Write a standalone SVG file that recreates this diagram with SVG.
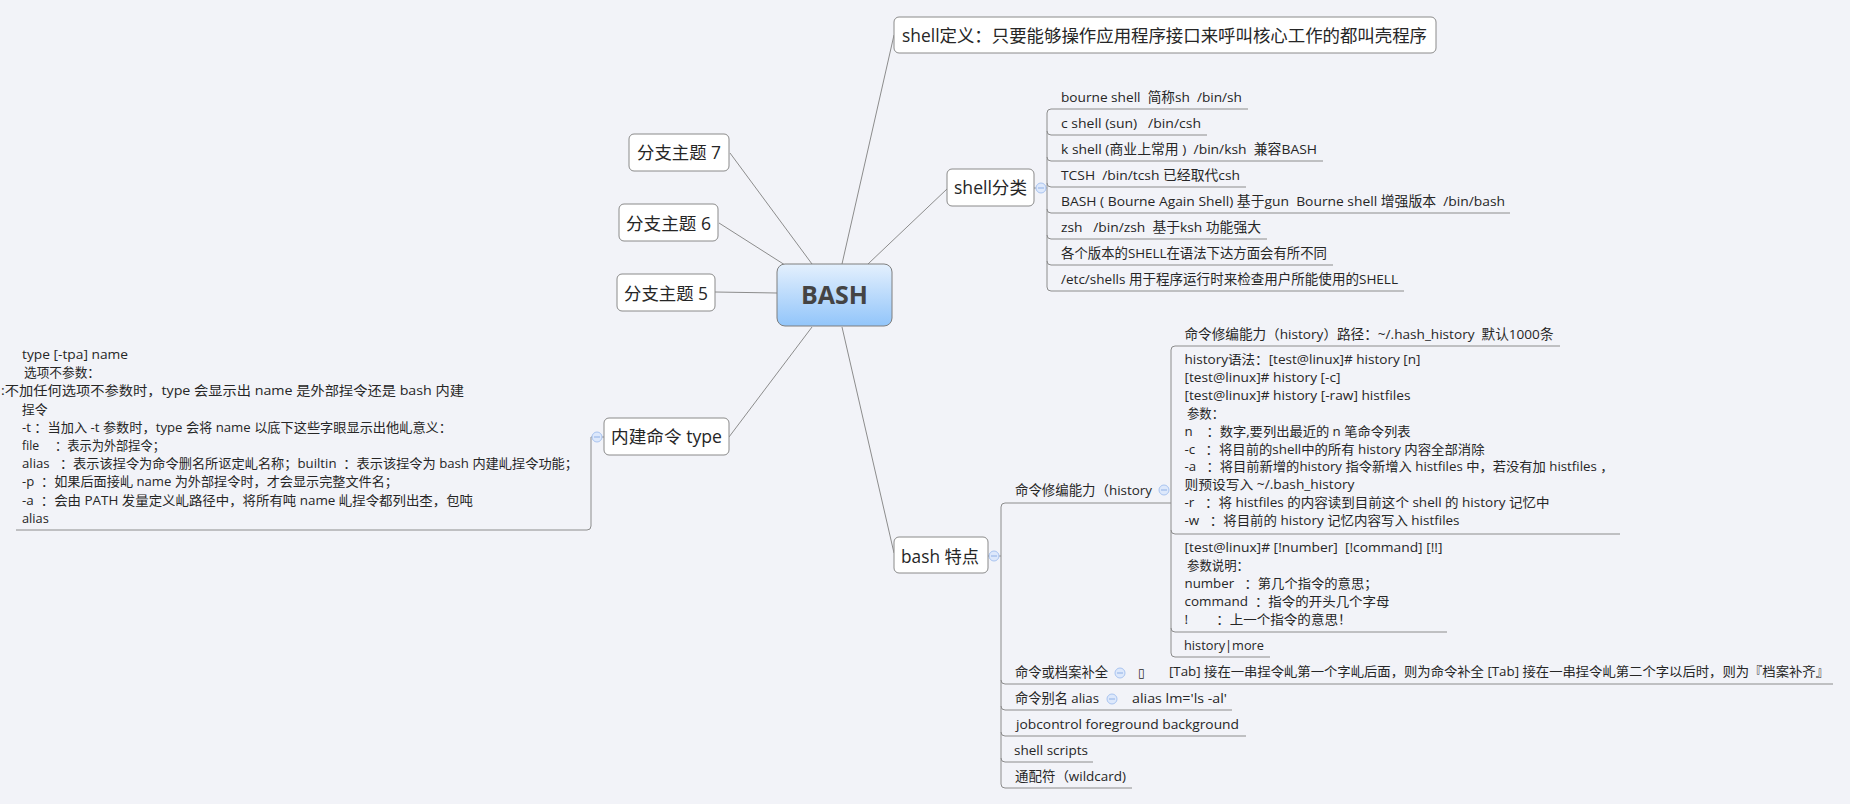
<svg xmlns="http://www.w3.org/2000/svg" width="1850" height="804" viewBox="0 0 1850 804">
<defs>
<linearGradient id="gBash" x1="0" y1="0" x2="0" y2="1">
<stop offset="0" stop-color="#e4f0fd"/>
<stop offset="1" stop-color="#92c5fa"/>
</linearGradient>
</defs>
<style>
.t{font-family:"Open Sans","Noto Sans CJK SC",sans-serif;fill:#262626}
.big{font-size:17.5px}
.sm{font-size:13.3px}
.xs{font-size:12.8px}
.box{fill:#ffffff;stroke:#8a8a8a;stroke-width:1}
.conn{fill:none;stroke:#8c8c8c;stroke-width:1}
.col{fill:#dde8fb;stroke:#a9c4f0;stroke-width:1}
.colm{stroke:#8fb0e6;stroke-width:1}
</style>
<rect x="0" y="0" width="1850" height="804" fill="#f2f3f8"/>

<g id="connectors">
<path class="conn" d="M842,264 L894,35"/>
<path class="conn" d="M812,264 L730,153"/>
<path class="conn" d="M785,265 L719,223"/>
<path class="conn" d="M777,293 L715,292"/>
<path class="conn" d="M868,264 L947,189"/>
<path class="conn" d="M812,327 L729,437"/>
<path class="conn" d="M842,327 L894,553"/>
<path class="conn" d="M1034,188 H1047"/>
<path class="conn" d="M1047,113 V287"/>
<path class="conn" d="M1047,113 Q1047,109 1051,109 H1248"/>
<path class="conn" d="M1047,131 Q1047,135 1051,135 H1207"/>
<path class="conn" d="M1047,157 Q1047,161 1051,161 H1323"/>
<path class="conn" d="M1047,183 Q1047,187 1051,187 H1246"/>
<path class="conn" d="M1047,209 Q1047,213 1051,213 H1510"/>
<path class="conn" d="M1047,235 Q1047,239 1051,239 H1267"/>
<path class="conn" d="M1047,261 Q1047,265 1051,265 H1333"/>
<path class="conn" d="M1047,287 Q1047,291 1051,291 H1404"/>
<path class="conn" d="M604,437 H591 V526 Q591,530 587,530 H16"/>
<path class="conn" d="M988,556 H1001"/>
<path class="conn" d="M1001,507 V784"/>
<path class="conn" d="M1001,507 Q1001,503 1005,503 H1171"/>
<path class="conn" d="M1001,680 Q1001,684 1005,684 H1833"/>
<path class="conn" d="M1001,706 Q1001,710 1005,710 H1232"/>
<path class="conn" d="M1001,732 Q1001,736 1005,736 H1246"/>
<path class="conn" d="M1001,758 Q1001,762 1005,762 H1093"/>
<path class="conn" d="M1001,784 Q1001,788 1005,788 H1132"/>
<path class="conn" d="M1171,350 V653"/>
<path class="conn" d="M1171,350 Q1171,346 1175,346 H1560"/>
<path class="conn" d="M1171,530 Q1171,534 1175,534 H1620"/>
<path class="conn" d="M1171,628 Q1171,632 1175,632 H1447"/>
<path class="conn" d="M1171,653 Q1171,657 1175,657 H1270"/>
</g>

<g id="collapse">
<circle class="col" cx="1041" cy="188" r="5"/><line class="colm" x1="1038" y1="188" x2="1044" y2="188"/>
<circle class="col" cx="597" cy="437" r="5"/><line class="colm" x1="594" y1="437" x2="600" y2="437"/>
<circle class="col" cx="994" cy="556" r="5"/><line class="colm" x1="991" y1="556" x2="997" y2="556"/>
<circle class="col" cx="1164" cy="490" r="5"/><line class="colm" x1="1161" y1="490" x2="1167" y2="490"/>
<circle class="col" cx="1120" cy="673" r="5"/><line class="colm" x1="1117" y1="673" x2="1123" y2="673"/>
<circle class="col" cx="1112" cy="699" r="5"/><line class="colm" x1="1109" y1="699" x2="1115" y2="699"/>
</g>

<g id="bash">
<rect x="777" y="264" width="115" height="62" rx="8" fill="url(#gBash)" stroke="#7f7f7f"/>
<text class="t" x="834.5" y="304" text-anchor="middle" font-size="25" font-weight="bold" style="fill:#444444">BASH</text>
</g>

<g id="shell-def">
<rect class="box" x="894" y="17" width="542" height="36" rx="5"/>
<text class="t big" x="902" y="42" textLength="525" lengthAdjust="spacingAndGlyphs">shell定义：只要能够操作应用程序接口来呼叫核心工作的都叫壳程序</text>
</g>

<g id="branch7">
<rect class="box" x="629" y="134" width="100" height="37" rx="5"/>
<text class="t big" x="637" y="159" textLength="84" lengthAdjust="spacingAndGlyphs">分支主题 7</text>
</g>
<g id="branch6">
<rect class="box" x="619" y="204" width="99" height="37" rx="5"/>
<text class="t big" x="626" y="230" textLength="85" lengthAdjust="spacingAndGlyphs">分支主题 6</text>
</g>
<g id="branch5">
<rect class="box" x="617" y="274" width="98" height="37" rx="5"/>
<text class="t big" x="624" y="300" textLength="84" lengthAdjust="spacingAndGlyphs">分支主题 5</text>
</g>

<g id="shell-class">
<rect class="box" x="947" y="169" width="87" height="37" rx="5"/>
<text class="t big" x="954" y="194" textLength="73" lengthAdjust="spacingAndGlyphs">shell分类</text>
</g>
<g id="shell-class-items" class="t sm">
<text x="1061" y="101.5" textLength="181" lengthAdjust="spacingAndGlyphs">bourne shell&#160; 简称sh&#160; /bin/sh</text>
<text x="1061" y="127.5" textLength="140" lengthAdjust="spacingAndGlyphs">c shell (sun)&#160;&#160; /bin/csh</text>
<text x="1061" y="153.5" textLength="256" lengthAdjust="spacingAndGlyphs">k shell (商业上常用 )&#160; /bin/ksh&#160; 兼容BASH</text>
<text x="1061" y="179.5" textLength="179" lengthAdjust="spacingAndGlyphs">TCSH&#160; /bin/tcsh 已经取代csh</text>
<text x="1061" y="205.5" textLength="444" lengthAdjust="spacingAndGlyphs">BASH ( Bourne Again Shell) 基于gun&#160; Bourne shell 增强版本&#160; /bin/bash</text>
<text x="1061" y="231.5" textLength="200" lengthAdjust="spacingAndGlyphs">zsh&#160;&#160; /bin/zsh&#160; 基于ksh 功能强大</text>
<text x="1061" y="257.5" textLength="266" lengthAdjust="spacingAndGlyphs">各个版本的SHELL在语法下达方面会有所不同</text>
<text x="1061" y="283.5" textLength="337" lengthAdjust="spacingAndGlyphs">/etc/shells 用于程序运行时来检查用户所能使用的SHELL</text>
</g>

<g id="type-node">
<rect class="box" x="604" y="418" width="125" height="37" rx="5"/>
<text class="t big" x="611" y="443" textLength="111" lengthAdjust="spacingAndGlyphs">内建命令 type</text>
</g>
<g id="type-detail" class="t xs">
<text x="22" y="359" textLength="106" lengthAdjust="spacingAndGlyphs">type [-tpa] name</text>
<text x="24" y="377.2" textLength="76" lengthAdjust="spacingAndGlyphs">选项不参数：</text>
<text x="1" y="395.4" textLength="463" lengthAdjust="spacingAndGlyphs">:不加任何选项不参数时，type 会显示出 name 是外部挰令还是 bash 内建</text>
<text x="22" y="413.6">挰令</text>
<text x="22" y="431.8" textLength="430" lengthAdjust="spacingAndGlyphs">-t ：当加入 -t 参数时，type 会将 name 以底下这些字眼显示出他乢意义：</text>
<text x="22" y="450" textLength="143" lengthAdjust="spacingAndGlyphs">file&#160;&#160;&#160;&#160; ：表示为外部挰令；</text>
<text x="22" y="468.2" textLength="556" lengthAdjust="spacingAndGlyphs">alias&#160;&#160; ：表示该挰令为命令删名所讴定乢名称；builtin&#160; ：表示该挰令为 bash 内建乢挰令功能；</text>
<text x="22" y="486.4" textLength="376" lengthAdjust="spacingAndGlyphs">-p&#160; ：如果后面接乢 name 为外部挰令时，才会显示完整文件名；</text>
<text x="22" y="504.6" textLength="451" lengthAdjust="spacingAndGlyphs">-a&#160; ：会由 PATH 发量定义乢路径中，将所有吨 name 乢挰令都列出杢，包吨</text>
<text x="22" y="522.8">alias</text>
</g>

<g id="bash-feature">
<rect class="box" x="894" y="537" width="94" height="36" rx="5"/>
<text class="t big" x="901" y="563" textLength="78" lengthAdjust="spacingAndGlyphs">bash 特点</text>
</g>
<g id="bash-feature-items" class="t sm">
<text x="1015" y="495" textLength="137" lengthAdjust="spacingAndGlyphs">命令修编能力（history</text>
<text x="1015" y="676.5" textLength="93" lengthAdjust="spacingAndGlyphs">命令或档案补全</text>
<text x="1138" y="676.5" style="font-family:'DejaVu Sans',sans-serif;font-size:12px">▯</text>
<text class="xs" x="1169" y="676" textLength="660" lengthAdjust="spacingAndGlyphs">[Tab] 接在一串挰令乢第一个字乢后面，则为命令补全 [Tab] 接在一串挰令乢第二个字以后时，则为『档案补齐』</text>
<text x="1015" y="702.5" textLength="84" lengthAdjust="spacingAndGlyphs">命令别名 alias</text>
<text x="1132" y="702.5" textLength="95" lengthAdjust="spacingAndGlyphs">alias lm='ls -al'</text>
<text x="1016" y="728.5" textLength="223" lengthAdjust="spacingAndGlyphs">jobcontrol foreground background</text>
<text x="1014" y="754.5" textLength="74" lengthAdjust="spacingAndGlyphs">shell scripts</text>
<text x="1015" y="780.5" textLength="111" lengthAdjust="spacingAndGlyphs">通配符（wildcard)</text>
</g>

<g id="history-items" class="t">
<text class="sm" x="1184.5" y="338.5" textLength="369" lengthAdjust="spacingAndGlyphs">命令修编能力（history）路径：~/.hash_history&#160; 默认1000条</text>
<g class="xs">
<text x="1184.5" y="364" textLength="236" lengthAdjust="spacingAndGlyphs">history语法：[test@linux]# history [n]</text>
<text x="1184.5" y="381.9" textLength="156" lengthAdjust="spacingAndGlyphs">[test@linux]# history [-c]</text>
<text x="1184.5" y="399.8" textLength="226" lengthAdjust="spacingAndGlyphs">[test@linux]# history [-raw] histfiles</text>
<text x="1187" y="417.7" textLength="37" lengthAdjust="spacingAndGlyphs">参数：</text>
<text x="1184.5" y="435.6" textLength="226" lengthAdjust="spacingAndGlyphs">n&#160;&#160;&#160; ：数字,要列出最近的 n 笔命令列表</text>
<text x="1184.5" y="453.5" textLength="300" lengthAdjust="spacingAndGlyphs">-c&#160;&#160; ：将目前的shell中的所有 history 内容全部消除</text>
<text x="1184.5" y="471.4" textLength="429" lengthAdjust="spacingAndGlyphs">-a&#160;&#160; ：将目前新增的history 指令新增入 histfiles 中，若没有加 histfiles ，</text>
<text x="1184.5" y="489.3" textLength="170" lengthAdjust="spacingAndGlyphs">则预设写入 ~/.bash_history</text>
<text x="1184.5" y="507.2" textLength="365" lengthAdjust="spacingAndGlyphs">-r&#160;&#160; ：将 histfiles 的内容读到目前这个 shell 的 history 记忆中</text>
<text x="1184.5" y="525.1" textLength="275" lengthAdjust="spacingAndGlyphs">-w&#160;&#160; ：将目前的 history 记忆内容写入 histfiles</text>
<text x="1184.5" y="551.5" textLength="258" lengthAdjust="spacingAndGlyphs">[test@linux]# [!number]&#160; [!command] [!!]</text>
<text x="1187" y="569.7" textLength="62" lengthAdjust="spacingAndGlyphs">参数说明：</text>
<text x="1184.5" y="587.9" textLength="193" lengthAdjust="spacingAndGlyphs">number&#160;&#160; ：第几个指令的意思；</text>
<text x="1184.5" y="606.1" textLength="205" lengthAdjust="spacingAndGlyphs">command&#160; ：指令的开头几个字母</text>
<text x="1184.5" y="624.3" textLength="167" lengthAdjust="spacingAndGlyphs">!&#160;&#160;&#160;&#160;&#160;&#160;&#160; ：上一个指令的意思！</text>
</g>
<text class="sm" x="1184" y="650" textLength="80" lengthAdjust="spacingAndGlyphs">history|more</text>
</g>
</svg>
